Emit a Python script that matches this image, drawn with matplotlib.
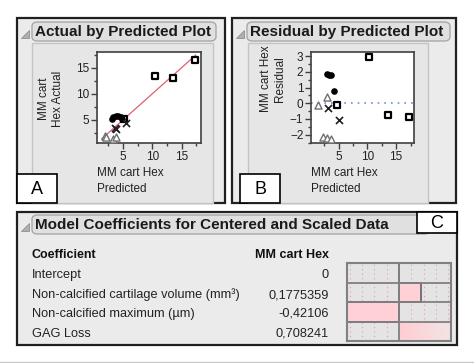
"""JMP 風のモデル診断パネル (A: 実測 vs 予測, B: 残差, C: 係数)"""

import matplotlib
matplotlib.use("Agg")
import matplotlib.pyplot as plt
import numpy as np
from matplotlib.patches import Rectangle, FancyBboxPatch, Polygon
from matplotlib.ticker import MultipleLocator

plt.rcParams["font.family"] = ["Liberation Sans", "DejaVu Sans"]

# --- A: Actual by Predicted ---
sq_pred = [5.2, 10.4, 13.6, 17.2]
sq_act = [5.1, 13.4, 13.0, 16.5]
circ_pred = [3.1, 3.4, 3.8, 4.2, 4.6, 4.9]
circ_act = [5.1, 5.5, 5.7, 5.7, 5.5, 5.2]
x_pred = [3.6, 3.9, 5.6]
x_act = [3.5, 3.2, 4.4]
tri_pred = [1.9, 2.2, 3.4, 3.9]
tri_act = [1.9, 1.8, 1.4, 1.7]
fit_line = [1.4, 17.4]

# --- B: Residual by Predicted ---
sq_res_pred = [4.8, 10.25, 13.5, 17.2]
sq_res = [-0.11, 2.97, -0.76, -0.89]
circ_res_pred = [2.9, 3.4, 3.7, 4.2]
circ_res = [1.85, 1.82, 1.8, 0.8]
tri_res_pred = [1.5, 3.0, 2.3, 2.9, 3.7]
tri_res = [-0.11, 0.38, -2.13, -2.19, -2.25]
x_res_pred = [3.2, 5.05]
x_res = [-0.28, -1.08]

# --- C: 係数 ---
coef_names = ["Intercept", "Non-calcified cartilage volume (mm³)",
              "Non-calcified maximum (µm)", "GAG Loss"]
coef_values = [0, 0.1775359, -0.42106, 0.708241]
coef_labels = ["0", "0,1775359", "-0,42106", "0,708241"]

W, H = 474, 363
fig = plt.figure(figsize=(W / 100, H / 100), dpi=100)


def rect(x0, y0, x1, y1):
    return [x0 / W, 1 - y1 / H, (x1 - x0) / W, (y1 - y0) / H]


def box(x0, y0, x1, y1, z=-5, **kw):
    r = Rectangle((x0 / W, 1 - y1 / H), (x1 - x0) / W, (y1 - y0) / H,
                  transform=fig.transFigure, zorder=z, **kw)
    fig.add_artist(r)


def title_bar(x0, y0, x1, y1, text):
    b = FancyBboxPatch((x0 / W, 1 - y1 / H), (x1 - x0) / W, (y1 - y0) / H,
                       boxstyle="round,pad=0,rounding_size=0.012",
                       transform=fig.transFigure, zorder=-3,
                       facecolor="#e0e0e0", edgecolor="#a8a8a8", lw=1)
    fig.add_artist(b)
    tri = Polygon([((x0 - 11) / W, 1 - (y1 - 3) / H), ((x0 - 3) / W, 1 - (y1 - 3) / H),
                   ((x0 - 3) / W, 1 - (y1 - 11) / H)], closed=True,
                  transform=fig.transFigure, facecolor="#b0b0b0", edgecolor="#909090",
                  lw=0.6, zorder=-3)
    fig.add_artist(tri)
    fig.text((x0 + 3) / W, 1 - ((y0 + y1) / 2 + 0.5) / H, text, fontsize=11,
             fontweight="bold", color="#1a1a1a", va="center", ha="left")


def letter_box(x0, y0, x1, y1, letter):
    box(x0, y0, x1, y1, z=5, facecolor="white", edgecolor="black", lw=1.2)
    fig.text((x0 + x1) / 2 / W, 1 - ((y0 + y1) / 2 + 1) / H, letter, fontsize=13,
             ha="center", va="center", zorder=6)


# 背景
box(0, 0, W, H, z=-10, facecolor="white", edgecolor="none")
fig.add_artist(plt.Line2D([0, 1], [1 - 361.5 / H] * 2, transform=fig.transFigure,
                          color="#c8c8c8", lw=1, zorder=-9))

# パネル枠
for (x0, y0, x1, y1) in [(17, 18, 225, 203), (232, 18, 456, 203), (17, 212, 457, 345)]:
    box(x0, y0, x1, y1, facecolor="#ebebeb", edgecolor="#202020", lw=1.6)

# 内側パネル
box(32, 43, 213, 203, z=-4, facecolor="#e6e6e6", edgecolor="#c4c4c4", lw=1)
box(248, 43, 428, 203, z=-4, facecolor="#e6e6e6", edgecolor="#c4c4c4", lw=1)

title_bar(32, 22, 216, 41, "Actual by Predicted Plot")
title_bar(247, 22, 450, 41, "Residual by Predicted Plot")
title_bar(32, 215, 430, 234, "Model Coefficients for Centered and Scaled Data")


def style_axes(ax):
    ax.set_facecolor("white")
    for s in ax.spines.values():
        s.set_color("#404040")
        s.set_linewidth(1.2)
    ax.tick_params(which="major", direction="out", length=4, width=1, labelsize=8.5,
                   pad=1.5, color="#404040", labelcolor="#222222")
    ax.tick_params(which="minor", direction="out", length=2, width=1, color="#404040")


# --- A ---
axA = fig.add_axes(rect(97, 52, 201, 143))
style_axes(axA)
axA.plot(fit_line, fit_line, color="#e06070", lw=0.9, zorder=1)
axA.scatter(sq_pred, sq_act, marker="s", s=20, facecolors="white", edgecolors="black",
            linewidths=1.6, zorder=3)
axA.scatter(circ_pred, circ_act, marker="o", s=14, color="black", zorder=3)
axA.scatter(x_pred, x_act, marker="x", s=26, color="#202020", linewidths=1.2, zorder=3)
axA.scatter(tri_pred, tri_act, marker="^", s=26, facecolors="white", edgecolors="#707070",
            linewidths=1, zorder=3)
axA.set_xlim(0.6, 18.3)
axA.set_ylim(0.6, 18.0)
axA.xaxis.set_major_locator(MultipleLocator(5))
axA.xaxis.set_minor_locator(MultipleLocator(2.5))
axA.yaxis.set_major_locator(MultipleLocator(5))
axA.yaxis.set_minor_locator(MultipleLocator(2.5))
fig.text(51 / W, 1 - 99 / H, "MM cart\nHex Actual", rotation=90, fontsize=8.5,
         ha="center", va="center", multialignment="center", color="#222222")
fig.text(97 / W, 1 - 181 / H, "MM cart Hex\nPredicted", fontsize=8.5, ha="left",
         va="center", linespacing=1.5, color="#222222")

# --- B ---
axB = fig.add_axes(rect(311, 52, 414, 143))
style_axes(axB)
axB.axhline(0, color="#7090d0", lw=1.2, ls=(0, (1, 3)), zorder=1)
axB.scatter(sq_res_pred, sq_res, marker="s", s=20, facecolors="white", edgecolors="black",
            linewidths=1.6, zorder=3)
axB.scatter(circ_res_pred, circ_res, marker="o", s=14, color="black", zorder=3)
axB.scatter(x_res_pred, x_res, marker="x", s=26, color="#202020", linewidths=1.2, zorder=3)
axB.scatter(tri_res_pred, tri_res, marker="^", s=26, facecolors="white",
            edgecolors="#707070", linewidths=1, zorder=3)
axB.set_xlim(0.2, 18.1)
axB.set_ylim(-2.53, 3.27)
axB.xaxis.set_major_locator(MultipleLocator(5))
axB.xaxis.set_minor_locator(MultipleLocator(2.5))
axB.yaxis.set_major_locator(MultipleLocator(1))
axB.yaxis.set_minor_locator(MultipleLocator(0.5))
fig.text(273 / W, 1 - 79 / H, "MM cart Hex\nResidual", rotation=90, fontsize=8.5,
         ha="center", va="center", multialignment="center", color="#222222")
fig.text(311 / W, 1 - 181 / H, "MM cart Hex\nPredicted", fontsize=8.5, ha="left",
         va="center", linespacing=1.5, color="#222222")

letter_box(17, 174, 57, 203, "A")
letter_box(240, 174, 280, 203, "B")
letter_box(417, 212, 457, 233, "C")

# --- C: 係数テーブル ---
fig.text(32 / W, 1 - 255 / H, "Coefficient", fontsize=9, fontweight="bold",
         ha="left", va="center", color="#111111")
fig.text(329 / W, 1 - 255 / H, "MM cart Hex", fontsize=9, fontweight="bold",
         ha="right", va="center", color="#111111")
row_y = [275, 295, 314, 334]
for name, lab, y in zip(coef_names, coef_labels, row_y):
    fig.text(32 / W, 1 - y / H, name, fontsize=9.2, ha="left", va="center",
             color="#222222")
    fig.text(329 / W, 1 - y / H, lab, fontsize=9.2, ha="right", va="center",
             color="#222222")

axC = fig.add_axes(rect(347, 263, 451, 341))
axC.set_facecolor("#e4e4e4")
lim = 0.422
axC.set_xlim(-lim, lim)
axC.set_ylim(len(coef_values) - 0.5, -0.5)
axC.set_xticks([])
axC.set_yticks([])
for gx in np.arange(-0.4, 0.41, 0.1):
    if abs(gx) > 1e-9:
        axC.axvline(gx, color="#e89aa4", lw=0.8, ls=(0, (1, 3)), zorder=0)
for i, v in enumerate(coef_values):
    if abs(v) <= lim:
        axC.barh(i, v, height=1.0, color="#ffd0d6", edgecolor="#6a6a6a", lw=1.3, zorder=2)
    else:
        end = np.sign(v) * lim
        grad = np.linspace(1, 0.1, 64).reshape(1, -1)
        axC.imshow(grad, extent=(0, end, i + 0.5, i - 0.5), aspect="auto",
                   cmap=matplotlib.colors.LinearSegmentedColormap.from_list(
                       "fade", ["#f2e6e6", "#ffcdd3"]),
                   vmin=0, vmax=1, zorder=2)
for yb in np.arange(0.5, len(coef_values) - 0.5, 1):
    axC.axhline(yb, color="#808080", lw=1.3, zorder=3)
axC.axvline(0, color="#808080", lw=1.3, zorder=3)
for s in axC.spines.values():
    s.set_color("#808080")
    s.set_linewidth(1.5)

plt.savefig("out.png", dpi=100)
